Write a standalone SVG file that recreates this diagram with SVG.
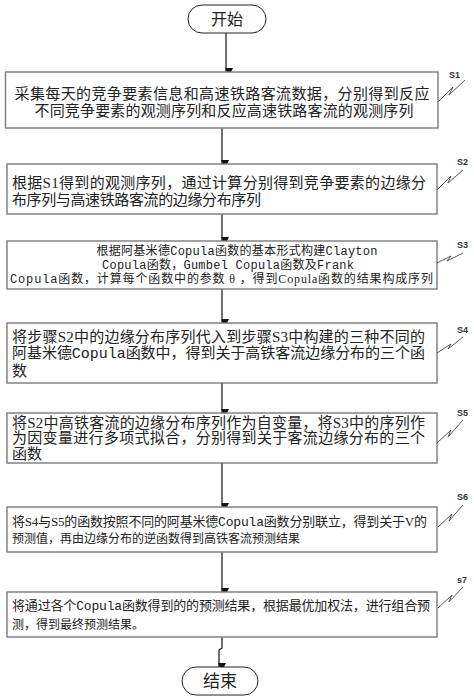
<svg xmlns="http://www.w3.org/2000/svg" width="474" height="700" viewBox="0 0 474 700">
<defs>
<marker id="ah" markerWidth="8" markerHeight="8" refX="4" refY="7" orient="auto" markerUnits="userSpaceOnUse" viewBox="0 0 8 8">
<path d="M0,0 L8,0 L4,8 Z" fill="#111" transform="rotate(-90 4 4)"/>
</marker>
<style>
.box{fill:#fff;stroke:#7a7a7a;stroke-width:1.4}
.term{fill:#fff;stroke:#222;stroke-width:1}
.t{font-family:"Liberation Serif","Noto Sans CJK SC",serif;fill:#222}
.t15{font-size:15px}
.t13{font-size:13px}
.t12{font-size:12px}
.m{font-family:"Liberation Mono","Noto Sans CJK SC",monospace}
.lbl{font-family:"Liberation Sans","Noto Sans",sans-serif;font-size:9px;font-weight:bold;fill:#333}
.sq{fill:none;stroke:#444;stroke-width:0.9}
.c{fill:none;stroke:#111;stroke-width:1.2}
</style>
</defs>
<rect width="474" height="700" fill="#fff"/>

<g id="connectors">
<line class="c" x1="226" y1="33" x2="226" y2="72" marker-end="url(#ah)"/>
<line class="c" x1="222" y1="128" x2="222" y2="164" marker-end="url(#ah)"/>
<line class="c" x1="222" y1="214" x2="222" y2="241" marker-end="url(#ah)"/>
<line class="c" x1="222" y1="289" x2="222" y2="323" marker-end="url(#ah)"/>
<line class="c" x1="222" y1="383" x2="222" y2="413" marker-end="url(#ah)"/>
<line class="c" x1="222" y1="463" x2="222" y2="507" marker-end="url(#ah)"/>
<line class="c" x1="222" y1="552" x2="222" y2="592" marker-end="url(#ah)"/>
<polyline class="c" points="222,637 222,648 219,650 219,667" marker-end="url(#ah)"/>
</g>

<g id="start">
<rect class="term" x="188" y="5" width="78" height="28" rx="14"/>
<text class="t" x="227" y="25" font-size="16" text-anchor="middle">开始</text>
</g>

<g id="s1">
<rect class="box" x="5.5" y="72" width="432.5" height="56"/>
<text class="t t15" x="222" y="98.5" text-anchor="middle" textLength="415" lengthAdjust="spacing">采集每天的竞争要素信息和高速铁路客流数据，分别得到反应</text>
<text class="t t15" x="224" y="115.5" text-anchor="middle" textLength="379" lengthAdjust="spacing">不同竞争要素的观测序列和反应高速铁路客流的观测序列</text>
<path class="sq" d="M438,102 L453,87 L449,95 L465,80"/>
<text class="lbl" x="449" y="78">S1</text>
</g>

<g id="s2">
<rect class="box" x="7" y="164" width="430" height="50"/>
<text class="t t15" x="12" y="187.5" textLength="414" lengthAdjust="spacing">根据S1得到的观测序列，通过计算分别得到竞争要素的边缘分</text>
<text class="t t15" x="12" y="204.5" textLength="249" lengthAdjust="spacing">布序列与高速铁路客流的边缘分布序列</text>
<path class="sq" d="M437,190 L451,176 L448,183 L463,170"/>
<text class="lbl" x="457" y="165">S2</text>
</g>

<g id="s3">
<rect class="box" x="7" y="241" width="430" height="48"/>
<text class="t t12" x="237" y="255" text-anchor="middle" textLength="281" lengthAdjust="spacing">根据阿基米德<tspan class="m">Copula</tspan>函数的基本形式构建<tspan class="m">Clayton</tspan></text>
<text class="t t12" x="228" y="269" text-anchor="middle" textLength="252" lengthAdjust="spacing"><tspan class="m">Copula</tspan>函数，<tspan class="m">Gumbel Copula</tspan>函数及<tspan class="m">Frank</tspan></text>
<text class="t t12" x="10" y="283" textLength="423" lengthAdjust="spacing"><tspan class="m">Copula</tspan>函数，计算每个函数中的参数 θ ，得到Copula函数的结果构成序列</text>
<path class="sq" d="M437,263 L451,256 L447,261 L463,253"/>
<text class="lbl" x="457" y="248">S3</text>
</g>

<g id="s4">
<rect class="box" x="7" y="323" width="430" height="60"/>
<text class="t t15" x="12" y="341.5" textLength="413" lengthAdjust="spacing">将步骤S2中的边缘分布序列代入到步骤S3中构建的三种不同的</text>
<text class="t t15" x="12" y="357.5" textLength="413" lengthAdjust="spacing">阿基米德<tspan class="m">Copula</tspan>函数中，得到关于高铁客流边缘分布的三个函</text>
<text class="t t15" x="12" y="375.5">数</text>
<path class="sq" d="M437,353 L451,344 L448,349 L463,337"/>
<text class="lbl" x="457" y="333">S4</text>
</g>

<g id="s5">
<rect class="box" x="7" y="413" width="430" height="50"/>
<text class="t t15" x="12" y="428" textLength="413" lengthAdjust="spacing">将S2中高铁客流的边缘分布序列作为自变量，将S3中的序列作</text>
<text class="t t15" x="12" y="443" textLength="413" lengthAdjust="spacing">为因变量进行多项式拟合，分别得到关于客流边缘分布的三个</text>
<text class="t t15" x="12" y="459">函数</text>
<path class="sq" d="M437,443 L451,430 L448,437 L463,420"/>
<text class="lbl" x="457" y="416">S5</text>
</g>

<g id="s6">
<rect class="box" x="7" y="507" width="430" height="45"/>
<text class="t t13" x="12" y="526" textLength="415" lengthAdjust="spacing">将S4与S5的函数按照不同的阿基米德<tspan class="m">Copula</tspan>函数分别联立，得到关于V的</text>
<text class="t t12" x="12" y="543">预测值，再由边缘分布的逆函数得到高铁客流预测结果</text>
<path class="sq" d="M438,527 L452,514 L449,521 L463,505"/>
<text class="lbl" x="457" y="500">S6</text>
</g>

<g id="s7">
<rect class="box" x="7" y="592" width="430" height="45"/>
<text class="t t13" x="12" y="610" textLength="418" lengthAdjust="spacing">将通过各个<tspan class="m">Copula</tspan>函数得到的的预测结果，根据最优加权法，进行组合预</text>
<text class="t t12" x="12" y="629">测，得到最终预测结果。</text>
<path class="sq" d="M438,608 L452,595 L449,602 L463,587"/>
<text class="lbl" x="457" y="583">s7</text>
</g>

<g id="end">
<rect class="term" x="182" y="667" width="76" height="28" rx="14"/>
<text class="t" x="220" y="687" font-size="17" text-anchor="middle">结束</text>
</g>
</svg>
